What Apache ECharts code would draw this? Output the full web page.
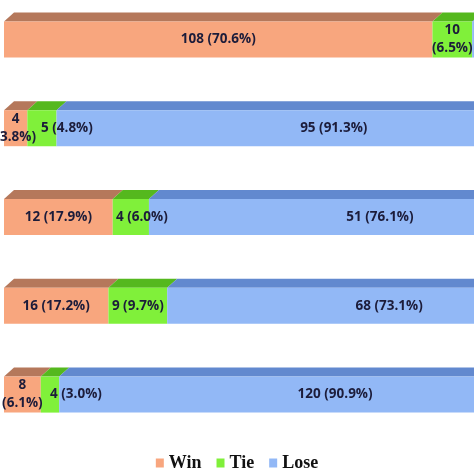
<!DOCTYPE html>
<html>
<head>
<meta charset="utf-8">
<script src="https://cdn.jsdelivr.net/npm/echarts@6/dist/echarts.min.js"></script>
<style>
  html, body { margin: 0; padding: 0; background: #fff; }
  #chart { width: 474px; height: 474px; }
</style>
</head>
<body>
<div id="chart"></div>
<script>
// five groups, top to bottom
const groups = ['G1', 'G2', 'G3', 'G4', 'G5'];
const winCounts = [108, 4, 12, 16, 8];
const tieCounts = [10, 5, 4, 9, 4];
const loseCounts = [35, 95, 51, 68, 120];

// which labels are wrapped onto two lines, and sideways nudge of tie labels
const winWrap = [false, true, false, false, true];
const tieWrap = [true, false, false, false, false];
const tieShift = [0, 25, 11, 0, 26];

const front = { Win: '#f8a67e', Tie: '#80f03a', Lose: '#92b8f6' };
const topFace = { Win: '#b5785b', Tie: '#55b81e', Lose: '#6289cf' };

const totals = groups.map((g, i) => winCounts[i] + tieCounts[i] + loseCounts[i]);
const pct = (arr) => arr.map((v, i) => v / totals[i] * 100);

const seriesDefs = [
    { name: 'Win', counts: winCounts, wrap: winWrap, shift: null },
    { name: 'Tie', counts: tieCounts, wrap: tieWrap, shift: tieShift },
    { name: 'Lose', counts: loseCounts, wrap: null, shift: null }
];

const barSeries = seriesDefs.map(def => {
    const p = pct(def.counts);
    return {
        name: def.name,
        type: 'bar',
        stack: 'all',
        barWidth: 36,
        clip: false,
        itemStyle: { color: front[def.name] },
        label: {
            show: true,
            position: 'inside',
            fontFamily: 'Open Sans',
            fontWeight: 'bold',
            fontSize: 13.5,
            lineHeight: 18,
            color: '#1c1c3a'
        },
        data: p.map((v, i) => {
            const text = def.counts[i] + (def.wrap && def.wrap[i] ? '\n' : ' ') + '(' + v.toFixed(1) + '%)';
            return {
                value: v,
                label: {
                    formatter: text,
                    offset: [def.shift ? def.shift[i] : 0, 0]
                }
            };
        })
    };
});

// slanted top faces, one per segment
const faceData = [];
seriesDefs.forEach(def => {
    const p = pct(def.counts);
    p.forEach((v, i) => {
        let start = 0;
        for (const d of seriesDefs) {
            if (d === def) break;
            start += pct(d.counts)[i];
        }
        faceData.push({ value: [i, start, start + v], itemStyle: { color: topFace[def.name] } });
    });
});

const faceSeries = {
    type: 'custom',
    encode: { x: [1, 2], y: 0 },
    data: faceData,
    silent: true,
    clip: false,
    renderItem: (params, api) => {
        const a = api.coord([api.value(1), api.value(0)]);
        const b = api.coord([api.value(2), api.value(0)]);
        const yTop = a[1] - 18;
        return {
            type: 'polygon',
            shape: {
                points: [[a[0], yTop], [b[0], yTop], [b[0] + 10, yTop - 9], [a[0] + 10, yTop - 9]]
            },
            style: { fill: api.visual('color') }
        };
    }
};

const chart = echarts.init(document.getElementById('chart'));
chart.setOption({
    backgroundColor: '#fff',
    animation: false,
    grid: { left: 4, width: 607, top: -5, height: 444, outerBoundsMode: 'none' },
    xAxis: { type: 'value', min: 0, max: 100, show: false },
    yAxis: { type: 'category', data: groups, inverse: true, show: false },
    legend: {
        data: ['Win', 'Tie', 'Lose'],
        left: 'center',
        top: 449,
        icon: 'rect',
        itemWidth: 8,
        itemHeight: 9,
        itemGap: 15,
        textStyle: { fontFamily: 'Liberation Serif', fontWeight: 'bold', fontSize: 18, color: '#111' }
    },
    series: [faceSeries].concat(barSeries)
});
</script>
</body>
</html>
